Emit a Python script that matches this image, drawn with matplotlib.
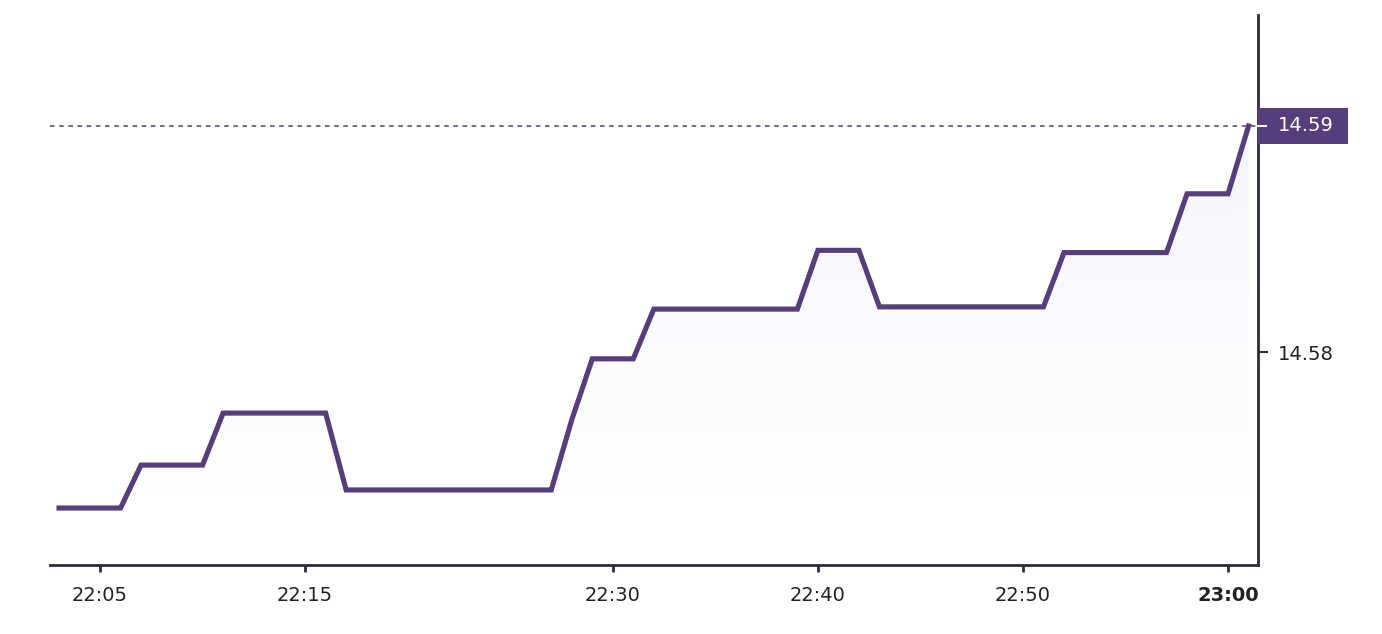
import matplotlib
matplotlib.use("Agg")
import matplotlib.pyplot as plt
import matplotlib.transforms as mtransforms
from matplotlib.patches import Rectangle
import numpy as np

# ---- data -------------------------------------------------------------
times = ["22:03", "22:04", "22:05", "22:06", "22:07", "22:08", "22:09", "22:10",
         "22:11", "22:12", "22:13", "22:14", "22:15", "22:16", "22:17", "22:18",
         "22:19", "22:20", "22:21", "22:22", "22:23", "22:24", "22:25", "22:26",
         "22:27", "22:28", "22:29", "22:30", "22:31", "22:32", "22:33", "22:34",
         "22:35", "22:36", "22:37", "22:38", "22:39", "22:40", "22:41", "22:42",
         "22:43", "22:44", "22:45", "22:46", "22:47", "22:48", "22:49", "22:50",
         "22:51", "22:52", "22:53", "22:54", "22:55", "22:56", "22:57", "22:58",
         "22:59", "23:00", "23:01"]
values = [14.5731, 14.5731, 14.5731, 14.5731, 14.5750, 14.5750, 14.5750, 14.5750,
          14.5773, 14.5773, 14.5773, 14.5773, 14.5773, 14.5773, 14.5739, 14.5739,
          14.5739, 14.5739, 14.5739, 14.5739, 14.5739, 14.5739, 14.5739, 14.5739,
          14.5739, 14.5770, 14.5797, 14.5797, 14.5797, 14.5819, 14.5819, 14.5819,
          14.5819, 14.5819, 14.5819, 14.5819, 14.5819, 14.5845, 14.5845, 14.5845,
          14.5820, 14.5820, 14.5820, 14.5820, 14.5820, 14.5820, 14.5820, 14.5820,
          14.5820, 14.5844, 14.5844, 14.5844, 14.5844, 14.5844, 14.5844, 14.5870,
          14.5870, 14.5870, 14.5900]
xtick_labels = ["22:05", "22:15", "22:30", "22:40", "22:50", "23:00"]
ytick_values = [14.58, 14.59]
last_value = values[-1]


def to_min(s):
    h, m = s.split(":")
    return (int(h) - 22) * 60 + int(m)


x = np.array([to_min(t) for t in times], dtype=float)
y = np.array(values)

PURPLE = "#563d7c"
DARK = "#2b2b40"
FS = 14

plt.rcParams["font.family"] = ["DejaVu Sans"]

W, H = 1382, 634
fig = plt.figure(figsize=(W / 100, H / 100), dpi=100)
ax = fig.add_axes([50 / W, (H - 565) / H, 1208 / W, 550 / H])

ax.set_xlim(2.56, 61.46)
ax.set_ylim(14.57058, 14.59491)

# gradient fill under line
ymin, ymax = ax.get_ylim()
grad = np.linspace(0, 1, 256).reshape(-1, 1)
rgba = np.zeros((256, 1, 4))
c = matplotlib.colors.to_rgb("#7a5cd6")
rgba[..., 0], rgba[..., 1], rgba[..., 2] = c
top_val = max(values)
bot_val = min(values) - 0.0003
rgba[..., 3] = 0.07 * grad[:, :]
img = ax.imshow(rgba, extent=[x[0], x[-1], bot_val, top_val], origin="lower",
                aspect="auto", zorder=1)
poly = ax.fill_between(x, y, ymin, color="none", lw=0)
path = poly.get_paths()[0]
img.set_clip_path(path, transform=ax.transData)

ax.plot(x, y, color=PURPLE, lw=3.7, solid_joinstyle="miter", zorder=3)

# dotted reference line for last value
ax.axhline(last_value, color=PURPLE, lw=1.1, ls=(0, (3, 3)), zorder=2)

# spines
for s in ["left", "top"]:
    ax.spines[s].set_visible(False)
for s in ["right", "bottom"]:
    ax.spines[s].set_color(DARK)
    ax.spines[s].set_linewidth(2)

ax.set_xticks([to_min(t) for t in xtick_labels])
ax.set_xticklabels(xtick_labels)
ax.tick_params(axis="x", length=5, width=2, color=DARK, pad=10,
               labelsize=FS, labelcolor="#222222")
ax.get_xticklabels()[-1].set_fontweight("bold")

ax.yaxis.tick_right()
ax.set_yticks(ytick_values)
ax.set_yticklabels([f"{v:.2f}" for v in ytick_values])
ax.tick_params(axis="y", length=7, width=1.5, color=DARK, pad=7,
               labelsize=FS, labelcolor="#222222")
ax.get_yticklabels()[1].set_visible(False)

# label box for last value
trans = mtransforms.blended_transform_factory(ax.transAxes, ax.transData)
px_per_unit = ax.bbox.height / (ymax - ymin)
box_h = 36 / px_per_unit
box_w = 90 / ax.bbox.width
ax.add_patch(Rectangle((1.0, last_value - box_h / 2), box_w, box_h,
                       transform=trans, facecolor=PURPLE, edgecolor="none",
                       clip_on=False, zorder=5))
ax.plot([1.0, 1.0 + 8 / ax.bbox.width], [last_value, last_value], color="white",
        lw=1.5, transform=trans, clip_on=False, zorder=6)
ax.text(1.0 + box_w / 2 + 3 / ax.bbox.width, last_value, f"{last_value:.2f}",
        transform=trans, ha="center", va="center", color="white", fontsize=FS,
        zorder=7)

fig.savefig("out.png", dpi=100)
